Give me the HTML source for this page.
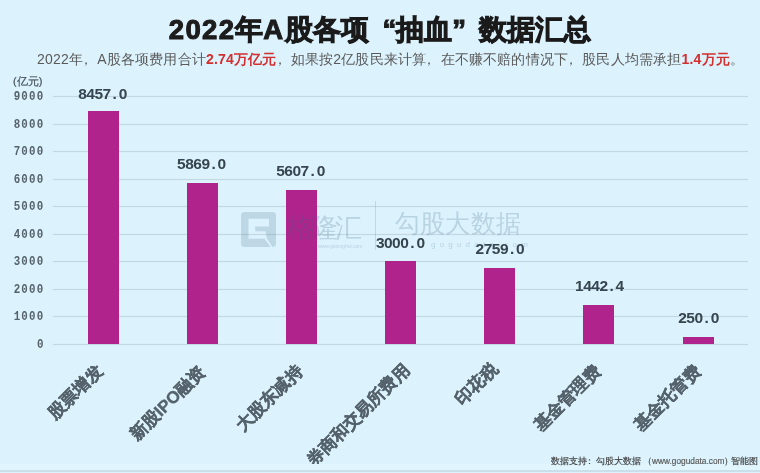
<!DOCTYPE html>
<html><head><meta charset="utf-8">
<style>
*{margin:0;padding:0;box-sizing:border-box}
html,body{width:760px;height:473px;overflow:hidden;background:#dcf2fc;}
body{filter:blur(0.3px);font-family:"Liberation Sans",sans-serif}
.abs{position:absolute;white-space:nowrap}
#title{left:0;width:760px;top:10px;text-align:center;font-size:27.5px;font-weight:bold;color:#1d1d1d;line-height:40px;-webkit-text-stroke:1px #1a1a1a}
#title .q{display:inline-block;width:27px}
#sub{left:37px;top:49px;font-size:14px;letter-spacing:0.18px;color:#5a5a5a;line-height:20px}
#sub .r{color:#d42f2f;font-weight:bold}
#sub .c{position:relative;left:-4px}
.grid{position:absolute;left:53px;width:695px;height:1px;background:#c3d8e2;box-shadow:0 0 1px rgba(160,190,205,0.4)}
.yl{position:absolute;right:715.5px;font-family:"Liberation Mono",monospace;font-weight:bold;font-size:13.5px;color:#56636c;line-height:14px;transform:scaleX(0.8);transform-origin:100% 50%;letter-spacing:1.5px}
#unit{left:13px;top:73px;font-size:11px;color:#46525b;line-height:16px;-webkit-text-stroke:0.2px #46525b}
.bar{position:absolute;width:31px;background:#b0238d}
.val{position:absolute;width:80px;text-align:center;font-family:"Liberation Sans",sans-serif;font-weight:bold;font-size:15.5px;color:#36454f;line-height:16px}
.val i{font-style:normal;display:inline-block;width:8.1px;text-align:center}
.xl{position:absolute;font-size:17px;font-weight:bold;color:#54626c;line-height:20px;-webkit-text-stroke:0.3px #54626c;transform-origin:100% 50%;transform:rotate(-45deg);white-space:nowrap;text-align:right}
#foot{left:551px;top:454px;font-size:9px;color:#3f3f3f;line-height:14px;-webkit-text-stroke:0.15px #3f3f3f}
#bline{left:0;top:470px;width:760px;height:2px;background:#c9dfe9}
#bband{left:0;top:464px;width:760px;height:6px;background:#e0f5fd}
.wm{color:rgba(60,100,130,0.22)}
</style></head><body>
<div id="title" class="abs"><span style="letter-spacing:1.3px">2022</span>年<span style="letter-spacing:2px">A</span>股各项<span class="q" style="text-align:right">“</span>抽血<span class="q" style="text-align:left">”</span>数据汇总</div>
<div id="sub" class="abs">2022年<span class="c">，</span>A股各项费用合计<span class="r">2.74万亿元</span><span class="c">，</span>如果按2亿股民来计算<span class="c">，</span>在不赚不赔的情况下<span class="c">，</span>股民人均需承担<span class="r">1.4万元</span>。</div>
<div id="unit" class="abs">(亿元)</div>

<div class="grid" style="top:96px"></div>
<div class="grid" style="top:124px"></div>
<div class="grid" style="top:151px"></div>
<div class="grid" style="top:179px"></div>
<div class="grid" style="top:206px"></div>
<div class="grid" style="top:234px"></div>
<div class="grid" style="top:261px"></div>
<div class="grid" style="top:289px"></div>
<div class="grid" style="top:316px"></div>
<div class="grid" style="top:344px"></div>

<div class="yl" style="top:89.5px">9000</div>
<div class="yl" style="top:117.5px">8000</div>
<div class="yl" style="top:144.5px">7000</div>
<div class="yl" style="top:172.5px">6000</div>
<div class="yl" style="top:199.5px">5000</div>
<div class="yl" style="top:227.5px">4000</div>
<div class="yl" style="top:254.5px">3000</div>
<div class="yl" style="top:282.5px">2000</div>
<div class="yl" style="top:309.5px">1000</div>
<div class="yl" style="top:337.5px">0</div>

<div class="bar" style="left:88px;top:111px;height:233px"></div>
<div class="bar" style="left:187px;top:183px;height:161px"></div>
<div class="bar" style="left:286px;top:190px;height:154px"></div>
<div class="bar" style="left:385px;top:261px;height:83px"></div>
<div class="bar" style="left:484px;top:268px;height:76px"></div>
<div class="bar" style="left:583px;top:305px;height:39px"></div>
<div class="bar" style="left:683px;top:337px;height:7px"></div>

<!-- watermark -->
<svg class="abs" style="left:241px;top:212px" width="35" height="35" viewBox="0 0 35 35">
<path fill-rule="evenodd" fill="rgba(60,100,130,0.19)" d="M3.5 0 H31.5 Q35 0 35 3.5 V31.5 Q35 35 31.5 35 H3.5 Q0 35 0 31.5 V3.5 Q0 0 3.5 0 Z M7.5 6.7 H28 V14.6 H14.2 V19.2 H24.5 L26 26.7 L31.5 35 H29.5 L23.5 26.7 H7.5 Z"/>
</svg>
<div class="abs wm" style="left:287px;top:210.5px;font-size:26.5px;line-height:34px;letter-spacing:-3px">格隆汇</div>
<div class="abs wm" style="left:318px;top:243px;font-size:5px;line-height:6px">www.gelonghui.com</div>
<div class="abs" style="left:375px;top:201px;width:1px;height:49px;background:rgba(60,100,130,0.18)"></div>
<div class="abs wm" style="left:395px;top:207px;font-size:24.5px;line-height:34px;letter-spacing:0.2px">勾股大数据</div>
<div class="abs wm" style="left:431px;top:240px;font-size:8px;line-height:10px;letter-spacing:4.2px">gogudata.com</div>
<div class="val" style="left:62.5px;top:86.0px"><i>8</i><i>4</i><i>5</i><i>7</i><i>.</i><i>0</i></div>
<div class="val" style="left:161.4px;top:155.8px"><i>5</i><i>8</i><i>6</i><i>9</i><i>.</i><i>0</i></div>
<div class="val" style="left:260.5px;top:163.0px"><i>5</i><i>6</i><i>0</i><i>7</i><i>.</i><i>0</i></div>
<div class="val" style="left:360.2px;top:234.8px"><i>3</i><i>0</i><i>0</i><i>0</i><i>.</i><i>0</i></div>
<div class="val" style="left:459.9px;top:241.4px"><i>2</i><i>7</i><i>5</i><i>9</i><i>.</i><i>0</i></div>
<div class="val" style="left:559.4px;top:277.7px"><i>1</i><i>4</i><i>4</i><i>2</i><i>.</i><i>4</i></div>
<div class="val" style="left:658.5px;top:310.3px"><i>2</i><i>5</i><i>0</i><i>.</i><i>0</i></div>

<div class="xl" style="right:660.3px;top:358.2px">股票增发</div>
<div class="xl" style="right:557.9px;top:359.2px">新股IPO融资</div>
<div class="xl" style="right:459.8px;top:357.9px">大股东减持</div>
<div class="xl" style="right:352.9px;top:356.8px">券商和交易所费用</div>
<div class="xl" style="right:265.2px;top:356px">印花税</div>
<div class="xl" style="right:162px;top:358.4px">基金管理费</div>
<div class="xl" style="right:62.5px;top:358.4px">基金托管费</div>

<div id="bband" class="abs"></div>
<div id="bline" class="abs"></div>
<div id="foot" class="abs">数据支持<span style="position:relative;left:-2px">：</span>勾股大数据<span style="position:relative;left:2px">（<span style="font-size:8.3px;color:#666">www.gogudata.com</span>）</span>智能图</div>

</body></html>
